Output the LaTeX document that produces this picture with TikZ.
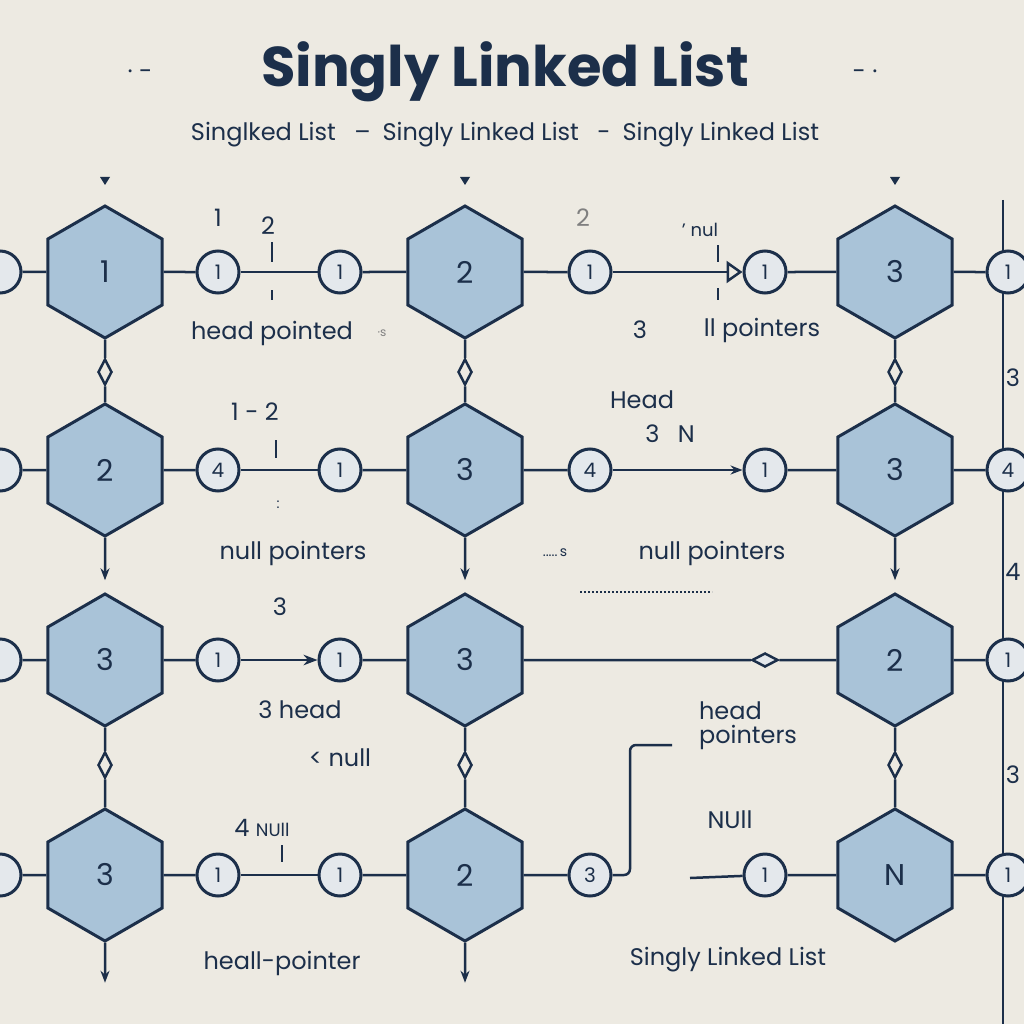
\documentclass[tikz,border=0pt]{standalone}
\usepackage{fontspec}
\setmainfont{Poppins}
\usetikzlibrary{shapes.geometric,arrows.meta,calc}
\definecolor{bg}{HTML}{EDEAE2}
\definecolor{navy}{HTML}{1C2F4A}
\definecolor{hexfill}{HTML}{A9C3D8}
\definecolor{cfill}{HTML}{E4E8EC}
\tikzset{
 hexnode/.style={regular polygon,regular polygon sides=6,shape border rotate=30,minimum size=132pt,draw=navy,line width=3pt,fill=hexfill,text=navy,font=\fontsize{30}{30}\selectfont,inner sep=0pt},
 ptr/.style={circle,draw=navy,line width=3pt,fill=cfill,minimum size=42pt,inner sep=0pt,text=navy,font=\fontsize{20}{20}\selectfont},
 lnk/.style={draw=navy,line width=2.5pt},
 lbl/.style={text=navy,font=\fontsize{24}{24}\selectfont,inner sep=0pt},
 dia/.style={diamond,draw=navy,line width=2.5pt,fill=bg,minimum width=14pt,minimum height=26pt,inner sep=0pt},
}
\begin{document}
\begin{tikzpicture}[x=1pt,y=-1pt]
\fill[bg] (0,0) rectangle (1024,1024);
\useasboundingbox (0,0) rectangle (1024,1024);
\node[text=navy,font=\fontsize{56}{56}\selectfont\bfseries] (title) at (505,72) {Singly Linked List};
\node[lbl] (tl) at (140,75) {· -}; \node[lbl] (tr) at (865,75) {- ·};
\node[lbl] (sub) at (505,135) {Singlked List \enspace–\enspace Singly Linked List \enspace-\enspace Singly Linked List};
\coordinate (rt) at (1003,200); \coordinate (rb) at (1003,1024);
\draw[lnk] (rt) -- (rb);
\foreach \r/\y/\a/\b/\c/\pa/\pb/\pe in
 {1/272/1/2/3/1/1/1, 2/470/2/3/3/4/1/4, 3/660/3/3/2/1/1/1, 4/875/3/2/N/1/1/1}{
 \node[hexnode] (h\r a) at (105,\y) {\a};
 \node[hexnode] (h\r b) at (465,\y) {\b};
 \node[hexnode] (h\r c) at (895,\y) {\c};
 \node[ptr] (l\r) at (0,\y) {};
 \node[ptr] (p\r a) at (218,\y) {\pa};
 \node[ptr] (p\r b) at (340,\y) {\pb};
 \node[ptr] (e\r) at (1008,\y) {\pe};
}
\foreach \r in {1,2,3,4}{
 \draw[lnk] (l\r) -- (h\r a);
 \draw[lnk] (h\r a) -- (p\r a);
 \draw[lnk] (p\r b) -- (h\r b);
 \draw[lnk] (h\r c) -- (e\r);
}
\foreach \r/\y/\pc/\pd in {1/272/1/1, 2/470/4/1, 4/875/3/1}{
 \node[ptr] (p\r c) at (590,\y) {\pc};
 \node[ptr] (p\r d) at (765,\y) {\pd};
}
\foreach \r in {1,2,4}{\draw[lnk] (p\r d) -- (h\r c);}
\draw[lnk] (h1b) -- (p1c); \draw[lnk] (h2b) -- (p2c); \draw[lnk] (h4b) -- (p4c);
\draw[lnk] (p1a) -- (p1b);
\draw[lnk,-{Triangle[open,length=16pt,width=22pt]}] (p1c) -- (p1d);
\draw[lnk] (p2a) -- (p2b);
\draw[lnk,-{Stealth[length=12pt]}] (p2c) -- (p2d);
\draw[lnk,-{Stealth[length=14pt]}] (p3a) -- (p3b);
\draw[lnk] (p4a) -- (p4b);
\node[dia,rotate=90,fill=cfill] (d3) at (765,660) {};
\draw[lnk] (h3b) -- (d3) -- (h3c);
\coordinate (k1) at (630,875); \coordinate (k2) at (630,745); \coordinate (k3) at (672,745);
\draw[lnk,rounded corners=6pt] (p4c) -- (k1) -- (k2) -- (k3);
\coordinate (k4) at (690,878);
\draw[lnk] (k4) -- (p4d);
\foreach \col in {a,b,c}{
 \node[dia] (v1\col) at ($(h1\col)+(0,100)$) {};
 \node[dia] (v3\col) at ($(h3\col)+(0,105)$) {};
}
\foreach \col/\x in {a/105,b/465,c/895}{
 \draw[lnk] (h1\col) -- (v1\col) -- (h2\col);
 \draw[lnk,-{Stealth[length=12pt]}] (h2\col) -- ($(h3\col.north)+(0,-12)$);
 \draw[lnk] (h3\col) -- (v3\col) -- (h4\col);
 \fill[navy] (\x,185) -- (\x-5,177) -- (\x+5,177) -- cycle;
}
\foreach \col in {a,b}{\draw[lnk,-{Stealth[length=12pt]}] (h4\col) -- ($(h4\col.south)+(0,40)$);}
\node[lbl] at (218,218) {1}; \node[lbl] at (268,226) {2};
\draw[navy,line width=2pt] (272,242) -- (272,262); \draw[navy,line width=2pt] (272,290) -- (272,300);
\node[lbl] at (272,333) {head pointed};
\node[lbl,text=gray] at (382,333) {\fontsize{12}{12}\selectfont ·s};
\node[lbl,text=gray] at (583,218) {2};
\node[lbl] at (700,230) {\fontsize{18}{18}\selectfont ' nul};
\draw[navy,line width=2pt] (718,245) -- (718,262); \draw[navy,line width=2pt] (718,288) -- (718,300);
\node[lbl] at (640,330) {3}; \node[lbl] at (762,330) {ll pointers};
\node[lbl] at (255,412) {1 - 2};
\draw[navy,line width=2pt] (276,440) -- (276,458);
\node[lbl] at (278,505) {\fontsize{14}{14}\selectfont :};
\node[lbl] at (293,553) {null pointers};
\node[lbl] at (642,400) {Head};
\node[lbl] at (670,434) {3 \enspace N};
\node[lbl] at (555,553) {\fontsize{14}{14}\selectfont .....\,s}; \node[lbl] at (712,553) {null pointers};
\draw[navy,line width=2pt,dotted] (580,592) -- (712,592);
\node[lbl] at (280,607) {3};
\node[lbl] at (300,710) {3 head}; \node[lbl] at (340,758) {< null};
\node[lbl,align=left] at (748,726) {head\\pointers};
\node[lbl] at (262,828) {4 \fontsize{18}{18}\selectfont NUll};
\draw[navy,line width=2pt] (282,845) -- (282,862);
\node[lbl] at (730,820) {NUll};
\node[lbl] at (282,963) {heall-pointer};
\node[lbl] at (728,960) {Singly Linked List};
\node[lbl] at (1013,378) {3}; \node[lbl] at (1013,572) {4}; \node[lbl] at (1013,775) {3};
\end{tikzpicture}
\end{document}
